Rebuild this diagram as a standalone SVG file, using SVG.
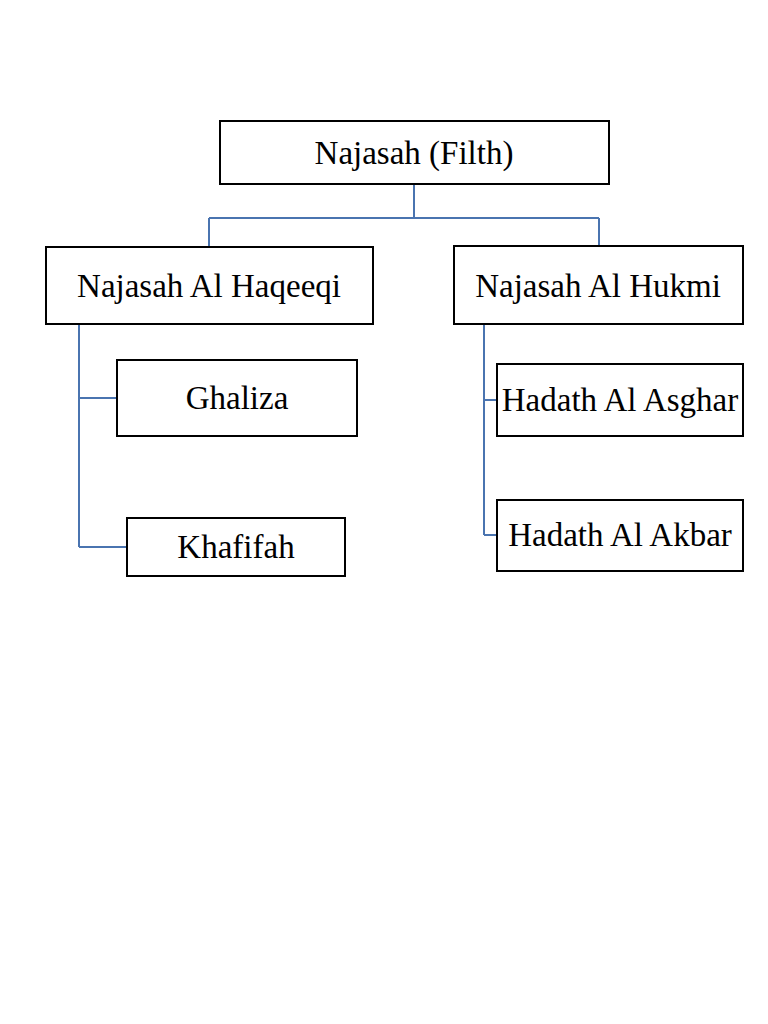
<svg xmlns="http://www.w3.org/2000/svg" width="768" height="1024" viewBox="0 0 768 1024">
<style>
.b{fill:#fff;stroke:#000;stroke-width:2}
.t{font-family:"Liberation Serif","DejaVu Serif",serif;font-size:33px;text-anchor:middle;fill:#000}
.c{fill:none;stroke:#4a74b0;stroke-width:2}
</style>
<rect width="768" height="1024" fill="#fff"/>
<g id="connectors">
<path class="c" d="M414 184V218M209 218H599M209 218V247M599 218V246"/>
<path class="c" d="M79 324V547M79 398H117M79 547H127"/>
<path class="c" d="M484 324V535M484 400H497M484 535H497"/>
</g>
<g id="root"><rect class="b" x="220" y="121" width="389" height="63"/><text class="t" x="414" y="164">Najasah (Filth)</text></g>
<g id="haqeeqi"><rect class="b" x="46" y="247" width="327" height="77"/><text class="t" x="209" y="297">Najasah Al Haqeeqi</text></g>
<g id="hukmi"><rect class="b" x="454" y="246" width="289" height="78"/><text class="t" x="598" y="297">Najasah Al Hukmi</text></g>
<g id="ghaliza"><rect class="b" x="117" y="360" width="240" height="76"/><text class="t" x="237" y="409">Ghaliza</text></g>
<g id="khafifah"><rect class="b" x="127" y="518" width="218" height="58"/><text class="t" x="236" y="558">Khafifah</text></g>
<g id="asghar"><rect class="b" x="497" y="364" width="246" height="72"/><text class="t" x="620" y="411">Hadath Al Asghar</text></g>
<g id="akbar"><rect class="b" x="497" y="500" width="246" height="71"/><text class="t" x="620" y="546">Hadath Al Akbar</text></g>
</svg>
